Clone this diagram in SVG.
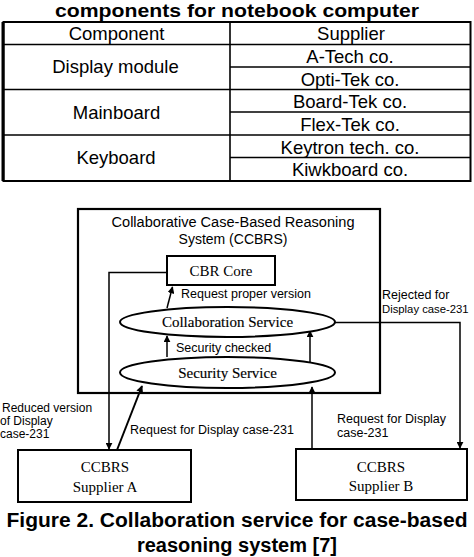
<svg xmlns="http://www.w3.org/2000/svg" width="474" height="557" viewBox="0 0 474 557">
<style>
.title{font-family:"Liberation Sans",Arial,sans-serif;font-weight:bold;font-size:20px;fill:#000}
.cell{font-family:"Liberation Sans",Arial,sans-serif;font-size:18.5px;fill:#000;text-anchor:middle}
.lbl{font-family:"Liberation Sans",Arial,sans-serif;font-size:12.5px;fill:#000}
.ser{font-family:"Liberation Serif","Times New Roman",serif;font-size:15px;fill:#000;text-anchor:middle}
.tl{stroke:#000;stroke-width:1.6;fill:none}
.ln{stroke:#000;stroke-width:1.5;fill:none}
.box{stroke:#000;stroke-width:2;fill:#fff}
</style>
<defs>
<marker id="ah" viewBox="0 0 10 10" refX="9" refY="5" markerWidth="7" markerHeight="7" markerUnits="userSpaceOnUse" orient="auto">
<path d="M0,0 L10,5 L0,10 z" fill="#000"/>
</marker>
</defs>
<rect width="474" height="557" fill="#fff"/>

<g id="table">
<text class="title" x="237" y="17" text-anchor="middle" style="font-size:19px" textLength="364" lengthAdjust="spacingAndGlyphs">components for notebook computer</text>
<rect x="3.5" y="22" width="467" height="159" class="tl" style="stroke-width:2"/>
<line x1="3" y1="22" x2="3" y2="181" stroke="#000" stroke-width="3"/>
<line x1="230" y1="22" x2="230" y2="181" class="tl"/>
<line x1="3" y1="44.5" x2="471" y2="44.5" class="tl"/>
<line x1="230" y1="67" x2="471" y2="67" class="tl"/>
<line x1="3" y1="89.5" x2="471" y2="89.5" class="tl"/>
<line x1="230" y1="112" x2="471" y2="112" class="tl"/>
<line x1="3" y1="135" x2="471" y2="135" class="tl"/>
<line x1="230" y1="157.5" x2="471" y2="157.5" class="tl"/>
<text class="cell" x="116.5" y="40">Component</text>
<text class="cell" x="351" y="40">Supplier</text>
<text class="cell" x="115.5" y="73">Display module</text>
<text class="cell" x="116.5" y="119">Mainboard</text>
<text class="cell" x="116" y="164">Keyboard</text>
<text class="cell" x="350" y="63">A-Tech co.</text>
<text class="cell" x="350" y="85.5">Opti-Tek co.</text>
<text class="cell" x="350" y="108">Board-Tek co.</text>
<text class="cell" x="350" y="131">Flex-Tek co.</text>
<text class="cell" x="350" y="153.5">Keytron tech. co.</text>
<text class="cell" x="350" y="176">Kiwkboard co.</text>
</g>

<g id="ccbrs">
<rect x="78" y="209" width="302" height="184" fill="none" stroke="#000" stroke-width="2.2"/>
<text class="lbl" x="233" y="227" text-anchor="middle" style="font-size:14px" textLength="243" lengthAdjust="spacingAndGlyphs">Collaborative Case-Based Reasoning</text>
<text class="lbl" x="233" y="243.5" text-anchor="middle" style="font-size:14px">System (CCBRS)</text>
</g>

<g id="connectors">
<polyline class="ln" points="167,272.5 109,272.5 109,449" marker-end="url(#ah)"/>
<line class="ln" x1="167" y1="308" x2="172.5" y2="287" marker-end="url(#ah)"/>
<polyline class="ln" points="335,322.5 460,322.5 460,448" marker-end="url(#ah)"/>
<line class="ln" x1="167" y1="357" x2="167" y2="336" marker-end="url(#ah)"/>
<line class="ln" x1="310" y1="363" x2="310" y2="331" marker-end="url(#ah)"/>
<line class="ln" x1="117" y1="450" x2="142" y2="386" style="stroke-width:2" marker-end="url(#ah)"/>
<line class="ln" x1="312" y1="449" x2="312" y2="387" marker-end="url(#ah)"/>
<text class="lbl" x="181" y="298">Request proper version</text>
<text class="lbl" x="176" y="352">Security checked</text>
<text class="lbl" x="382" y="299">Rejected for</text>
<text class="lbl" x="382" y="313" style="font-size:11.3px">Display case-231</text>
<text class="lbl" x="2" y="412" style="font-size:12px">Reduced version</text>
<text class="lbl" x="0" y="425" style="font-size:12px">of Display</text>
<text class="lbl" x="0" y="438" style="font-size:12px">case-231</text>
<text class="lbl" x="130" y="434">Request for Display case-231</text>
<text class="lbl" x="337" y="423">Request for Display</text>
<text class="lbl" x="337" y="437">case-231</text>
</g>

<g id="cbr-core">
<rect x="167" y="256" width="108" height="29" class="box"/>
<text class="ser" x="221" y="276">CBR Core</text>
</g>

<g id="collaboration-service">
<ellipse cx="227.5" cy="322" rx="107.5" ry="15" class="box"/>
<text class="ser" x="227.5" y="326.5" stroke="#000" stroke-width="0.15">Collaboration Service</text>
</g>

<g id="security-service">
<ellipse cx="227.5" cy="372.5" rx="107.5" ry="15.5" class="box"/>
<text class="ser" x="227.5" y="377.5" stroke="#000" stroke-width="0.15">Security Service</text>
</g>

<g id="supplier-a">
<rect x="18" y="450" width="173" height="52" class="box"/>
<text class="ser" x="105" y="472">CCBRS</text>
<text class="ser" x="105" y="492">Supplier A</text>
</g>

<g id="supplier-b">
<rect x="296" y="449" width="171" height="51" class="box"/>
<text class="ser" x="381" y="472">CCBRS</text>
<text class="ser" x="381" y="491">Supplier B</text>
</g>

<g id="caption">
<text class="title" x="237" y="527" text-anchor="middle" textLength="461" lengthAdjust="spacingAndGlyphs">Figure 2. Collaboration service for case-based</text>
<text class="title" x="237" y="552" text-anchor="middle">reasoning system [7]</text>
</g>
</svg>
